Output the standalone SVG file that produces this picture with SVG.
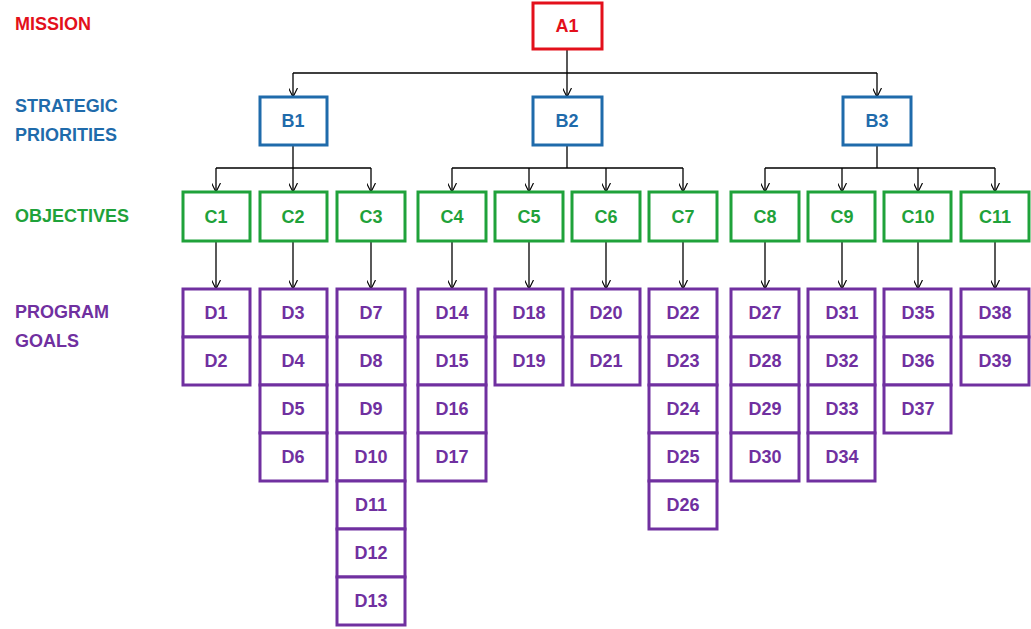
<svg xmlns="http://www.w3.org/2000/svg" width="1031" height="629" viewBox="0 0 1031 629">
<style>
text{font-family:"Liberation Sans",Arial,sans-serif;font-weight:bold;font-size:18px}
.n text{text-anchor:middle;dominant-baseline:central}
.a rect{fill:#fff;stroke:#e3101b;stroke-width:3}.a text{fill:#e3101b}
.b rect{fill:#fff;stroke:#1f6bab;stroke-width:3}.b text{fill:#1f6bab}
.c rect{fill:#fff;stroke:#1fa23a;stroke-width:3}.c text{fill:#1fa23a}
.d rect{fill:#fff;stroke:#7030a0;stroke-width:3}.d text{fill:#7030a0}
#conn path{stroke:#000;stroke-width:1.3;fill:none}
</style>
<defs><marker id="ar" viewBox="0 0 10 10" refX="10" refY="5" markerWidth="9" markerHeight="9" markerUnits="userSpaceOnUse" orient="auto"><path d="M0,0L10,5L0,10" fill="none" stroke="#000" stroke-width="1.3"/></marker></defs>
<rect width="1031" height="629" fill="#fff"/>
<text x="15" y="30" fill="#e3101b">MISSION</text>
<text x="15" y="112" fill="#1f6bab">STRATEGIC</text>
<text x="15" y="141" fill="#1f6bab">PRIORITIES</text>
<text x="15" y="222" fill="#1fa23a">OBJECTIVES</text>
<text x="15" y="318" fill="#7030a0">PROGRAM</text>
<text x="15" y="347" fill="#7030a0">GOALS</text>
<g id="conn">
<path d="M567,49V73M293,73H877"/>
<path d="M293,73V97" marker-end="url(#ar)"/><path d="M567,73V97" marker-end="url(#ar)"/><path d="M877,73V97" marker-end="url(#ar)"/>
<path d="M293,145V168M216,168H371M567,145V168M452,168H683M877,145V168M765,168H995"/>
<path d="M216,168V192" marker-end="url(#ar)"/><path d="M293,168V192" marker-end="url(#ar)"/><path d="M371,168V192" marker-end="url(#ar)"/>
<path d="M452,168V192" marker-end="url(#ar)"/><path d="M529,168V192" marker-end="url(#ar)"/><path d="M606,168V192" marker-end="url(#ar)"/><path d="M683,168V192" marker-end="url(#ar)"/>
<path d="M765,168V192" marker-end="url(#ar)"/><path d="M842,168V192" marker-end="url(#ar)"/><path d="M918,168V192" marker-end="url(#ar)"/><path d="M995,168V192" marker-end="url(#ar)"/>
<path d="M216,241V289" marker-end="url(#ar)"/><path d="M293,241V289" marker-end="url(#ar)"/><path d="M371,241V289" marker-end="url(#ar)"/>
<path d="M452,241V289" marker-end="url(#ar)"/><path d="M529,241V289" marker-end="url(#ar)"/><path d="M606,241V289" marker-end="url(#ar)"/><path d="M683,241V289" marker-end="url(#ar)"/>
<path d="M765,241V289" marker-end="url(#ar)"/><path d="M842,241V289" marker-end="url(#ar)"/><path d="M918,241V289" marker-end="url(#ar)"/><path d="M995,241V289" marker-end="url(#ar)"/>
</g>
<g id="A1" class="n a"><rect x="533" y="3" width="69" height="46"/><text x="567" y="26">A1</text></g>
<g id="B1" class="n b"><rect x="260" y="97" width="67" height="48"/><text x="293" y="121">B1</text></g>
<g id="B2" class="n b"><rect x="533" y="97" width="69" height="48"/><text x="567" y="121">B2</text></g>
<g id="B3" class="n b"><rect x="843" y="97" width="68" height="48"/><text x="877" y="121">B3</text></g>
<g id="C1" class="n c"><rect x="183" y="192" width="67" height="49"/><text x="216" y="217">C1</text></g>
<g id="C2" class="n c"><rect x="260" y="192" width="67" height="49"/><text x="293" y="217">C2</text></g>
<g id="C3" class="n c"><rect x="337" y="192" width="68" height="49"/><text x="371" y="217">C3</text></g>
<g id="C4" class="n c"><rect x="418" y="192" width="68" height="49"/><text x="452" y="217">C4</text></g>
<g id="C5" class="n c"><rect x="495" y="192" width="68" height="49"/><text x="529" y="217">C5</text></g>
<g id="C6" class="n c"><rect x="572" y="192" width="68" height="49"/><text x="606" y="217">C6</text></g>
<g id="C7" class="n c"><rect x="649" y="192" width="68" height="49"/><text x="683" y="217">C7</text></g>
<g id="C8" class="n c"><rect x="731" y="192" width="68" height="49"/><text x="765" y="217">C8</text></g>
<g id="C9" class="n c"><rect x="808" y="192" width="67" height="49"/><text x="842" y="217">C9</text></g>
<g id="C10" class="n c"><rect x="884" y="192" width="67" height="49"/><text x="918" y="217">C10</text></g>
<g id="C11" class="n c"><rect x="961" y="192" width="68" height="49"/><text x="995" y="217">C11</text></g>
<g class="n d">
<g id="D1"><rect x="183" y="289" width="67" height="48"/><text x="216" y="313">D1</text></g>
<g id="D2"><rect x="183" y="337" width="67" height="48"/><text x="216" y="361">D2</text></g>
<g id="D3"><rect x="260" y="289" width="67" height="48"/><text x="293" y="313">D3</text></g>
<g id="D4"><rect x="260" y="337" width="67" height="48"/><text x="293" y="361">D4</text></g>
<g id="D5"><rect x="260" y="385" width="67" height="48"/><text x="293" y="409">D5</text></g>
<g id="D6"><rect x="260" y="433" width="67" height="48"/><text x="293" y="457">D6</text></g>
<g id="D7"><rect x="337" y="289" width="68" height="48"/><text x="371" y="313">D7</text></g>
<g id="D8"><rect x="337" y="337" width="68" height="48"/><text x="371" y="361">D8</text></g>
<g id="D9"><rect x="337" y="385" width="68" height="48"/><text x="371" y="409">D9</text></g>
<g id="D10"><rect x="337" y="433" width="68" height="48"/><text x="371" y="457">D10</text></g>
<g id="D11"><rect x="337" y="481" width="68" height="48"/><text x="371" y="505">D11</text></g>
<g id="D12"><rect x="337" y="529" width="68" height="48"/><text x="371" y="553">D12</text></g>
<g id="D13"><rect x="337" y="577" width="68" height="48"/><text x="371" y="601">D13</text></g>
<g id="D14"><rect x="418" y="289" width="68" height="48"/><text x="452" y="313">D14</text></g>
<g id="D15"><rect x="418" y="337" width="68" height="48"/><text x="452" y="361">D15</text></g>
<g id="D16"><rect x="418" y="385" width="68" height="48"/><text x="452" y="409">D16</text></g>
<g id="D17"><rect x="418" y="433" width="68" height="48"/><text x="452" y="457">D17</text></g>
<g id="D18"><rect x="495" y="289" width="68" height="48"/><text x="529" y="313">D18</text></g>
<g id="D19"><rect x="495" y="337" width="68" height="48"/><text x="529" y="361">D19</text></g>
<g id="D20"><rect x="572" y="289" width="68" height="48"/><text x="606" y="313">D20</text></g>
<g id="D21"><rect x="572" y="337" width="68" height="48"/><text x="606" y="361">D21</text></g>
<g id="D22"><rect x="649" y="289" width="68" height="48"/><text x="683" y="313">D22</text></g>
<g id="D23"><rect x="649" y="337" width="68" height="48"/><text x="683" y="361">D23</text></g>
<g id="D24"><rect x="649" y="385" width="68" height="48"/><text x="683" y="409">D24</text></g>
<g id="D25"><rect x="649" y="433" width="68" height="48"/><text x="683" y="457">D25</text></g>
<g id="D26"><rect x="649" y="481" width="68" height="48"/><text x="683" y="505">D26</text></g>
<g id="D27"><rect x="731" y="289" width="68" height="48"/><text x="765" y="313">D27</text></g>
<g id="D28"><rect x="731" y="337" width="68" height="48"/><text x="765" y="361">D28</text></g>
<g id="D29"><rect x="731" y="385" width="68" height="48"/><text x="765" y="409">D29</text></g>
<g id="D30"><rect x="731" y="433" width="68" height="48"/><text x="765" y="457">D30</text></g>
<g id="D31"><rect x="808" y="289" width="67" height="48"/><text x="842" y="313">D31</text></g>
<g id="D32"><rect x="808" y="337" width="67" height="48"/><text x="842" y="361">D32</text></g>
<g id="D33"><rect x="808" y="385" width="67" height="48"/><text x="842" y="409">D33</text></g>
<g id="D34"><rect x="808" y="433" width="67" height="48"/><text x="842" y="457">D34</text></g>
<g id="D35"><rect x="884" y="289" width="67" height="48"/><text x="918" y="313">D35</text></g>
<g id="D36"><rect x="884" y="337" width="67" height="48"/><text x="918" y="361">D36</text></g>
<g id="D37"><rect x="884" y="385" width="67" height="48"/><text x="918" y="409">D37</text></g>
<g id="D38"><rect x="961" y="289" width="68" height="48"/><text x="995" y="313">D38</text></g>
<g id="D39"><rect x="961" y="337" width="68" height="48"/><text x="995" y="361">D39</text></g>
</g>
</svg>
